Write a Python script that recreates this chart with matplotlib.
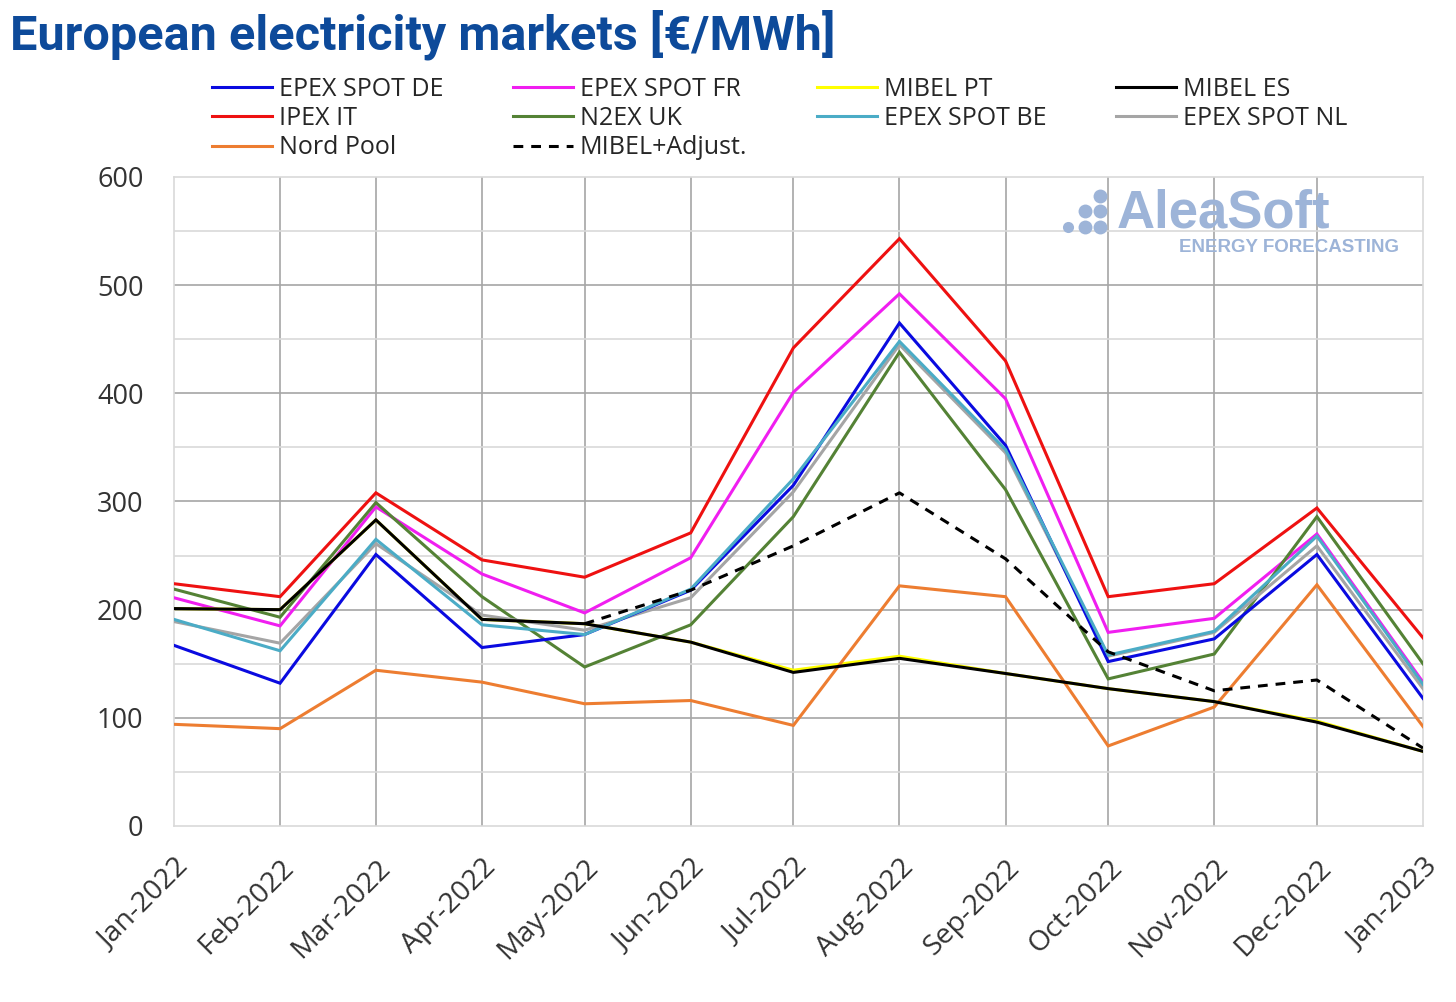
import matplotlib
matplotlib.use("Agg")
import matplotlib.pyplot as plt
import matplotlib.dates as mdates
from matplotlib.lines import Line2D
import numpy as np
import datetime as dt

months = ["2022-01", "2022-02", "2022-03", "2022-04", "2022-05", "2022-06", "2022-07",
          "2022-08", "2022-09", "2022-10", "2022-11", "2022-12", "2023-01"]

epex_de = [167, 132, 251, 165, 177, 218, 315, 465, 352, 152, 173, 251, 118]
epex_fr = [211, 185, 295, 233, 197, 248, 401, 492, 395, 179, 192, 270, 133]
mibel_pt = [201, 200, 283, 191, 187, 170, 144, 157, 141, 127, 115, 97, 69]
mibel_es = [201, 200, 283, 191, 187, 170, 142, 155, 141, 127, 115, 96, 69]
ipex_it = [224, 212, 308, 246, 230, 271, 442, 543, 430, 212, 224, 294, 174]
n2ex_uk = [219, 193, 299, 212, 147, 186, 286, 438, 311, 136, 159, 286, 150]
epex_be = [191, 162, 265, 186, 177, 219, 321, 448, 348, 158, 180, 268, 131]
epex_nl = [189, 169, 261, 195, 181, 211, 309, 445, 345, 157, 179, 259, 127]
nord_pool = [94, 90, 144, 133, 113, 116, 93, 222, 212, 74, 110, 223, 92]
adjust_months = months[4:]
mibel_adjust = [187, 218, 259, 308, 247, 161, 125, 135, 72]

y_ticks = [0, 100, 200, 300, 400, 500, 600]

dates = [dt.datetime.strptime(m, "%Y-%m") for m in months]
adj_dates = [dt.datetime.strptime(m, "%Y-%m") for m in adjust_months]

FONT = "Open Sans"
plt.rcParams['font.family'] = [FONT, 'DejaVu Sans']

fig = plt.figure(figsize=(14.56, 10.02), dpi=100)
ax = fig.add_axes([174/1456, 1 - 826/1002, (1423-174)/1456, (826-177)/1002])

lw = 2.2
series = [
    ("EPEX SPOT DE", epex_de, "#0a0ae0", "-"),
    ("EPEX SPOT FR", epex_fr, "#f01ef0", "-"),
    ("MIBEL PT", mibel_pt, "#ffff00", "-"),
    ("MIBEL ES", mibel_es, "#000000", "-"),
    ("IPEX IT", ipex_it, "#ee1111", "-"),
    ("N2EX UK", n2ex_uk, "#548235", "-"),
    ("EPEX SPOT BE", epex_be, "#4bacc6", "-"),
    ("EPEX SPOT NL", epex_nl, "#a5a5a5", "-"),
    ("Nord Pool", nord_pool, "#ed7d31", "-"),
]
handles = {}
zorders = {"MIBEL PT": 3, "MIBEL ES": 4, "Nord Pool": 3, "N2EX UK": 3, "EPEX SPOT NL": 3,
           "EPEX SPOT BE": 3.5, "EPEX SPOT DE": 3.2, "EPEX SPOT FR": 3, "IPEX IT": 3}
for name, vals, col, ls in series:
    h, = ax.plot(dates, vals, color=col, lw=lw, ls=ls, zorder=zorders[name],
                 solid_joinstyle='miter')
    handles[name] = h
h, = ax.plot(adj_dates, mibel_adjust, color="black", lw=lw, ls=(0, (3.2, 2.6)), zorder=3.8)
handles["MIBEL+Adjust."] = h

ax.set_xlim(dates[0], dates[-1])
ax.set_ylim(0, 600)
ax.set_yticks(y_ticks)
ax.set_yticks([50, 150, 250, 350, 450, 550], minor=True)
ax.set_xticks(dates)
ax.xaxis.set_major_formatter(mdates.DateFormatter("%b-%Y"))
ax.grid(True, which='major', axis='both', color='#a6a6a6', lw=1.2, zorder=0)
ax.grid(True, which='minor', axis='y', color='#d9d9d9', lw=1.2, zorder=0)
xg = ax.xaxis.get_gridlines()
xg[0].set_visible(False)
xg[-1].set_visible(False)
yg = ax.yaxis.get_gridlines()
yg[0].set_visible(False)
yg[-1].set_visible(False)
ax.tick_params(axis='both', which='both', length=0)
ax.tick_params(axis='y', labelsize=19.5, labelcolor='#333333', pad=22)
ax.tick_params(axis='x', labelsize=20.5, labelcolor='#333333', pad=20)
for lab in ax.get_xticklabels():
    lab.set_rotation(45)
    lab.set_ha('right')
    lab.set_va('top')
    lab.set_rotation_mode('anchor')
for s in ax.spines.values():
    s.set_color('#d9d9d9')
    s.set_linewidth(1.2)

# Title
fig.text(10/1456, 1 - 35/1002, "European electricity markets [€/MWh]", fontsize=35,
         fontweight='bold', color='#0d4a9a', ha='left', va='center', family=['Roboto', 'DejaVu Sans'])

# Legend
order = ["EPEX SPOT DE", "IPEX IT", "Nord Pool", "EPEX SPOT FR", "N2EX UK", "MIBEL+Adjust.",
         "MIBEL PT", "EPEX SPOT BE", "MIBEL ES", "EPEX SPOT NL"]
leg = fig.legend([handles[n] for n in order], order, ncol=4, loc='upper left',
                 bbox_to_anchor=(212/1456, 1 - 76.5/1002), frameon=False, fontsize=18,
                 handlelength=2.4, handletextpad=0.28, columnspacing=2.78, labelspacing=0.18,
                 borderaxespad=0, borderpad=0)
for t in leg.get_texts():
    t.set_color('#262626')

# Watermark
wm_col = '#9db4d8'
fig.text(1117/1456, 1 - 213/1002, "AleaSoft", fontsize=38, fontweight='bold', color=wm_col,
         ha='left', va='center', family=['Liberation Sans', 'DejaVu Sans'], zorder=1)
fig.text(1399/1456, 1 - 247/1002, "ENERGY FORECASTING", fontsize=13.5, fontweight='bold',
         color=wm_col, ha='right', va='center', family=['Liberation Sans', 'DejaVu Sans'], zorder=1)
dots = [(1068, 227, 8), (1085, 227, 10), (1100, 227, 10),
        (1085, 211, 10), (1100, 211, 10), (1100, 196, 10)]
for x, y, s in dots:
    fig.add_artist(Line2D([x/1456], [1 - y/1002], marker='o', markersize=s, color=wm_col,
                          markeredgewidth=0, transform=fig.transFigure))

fig.savefig("out.png", dpi=100)
